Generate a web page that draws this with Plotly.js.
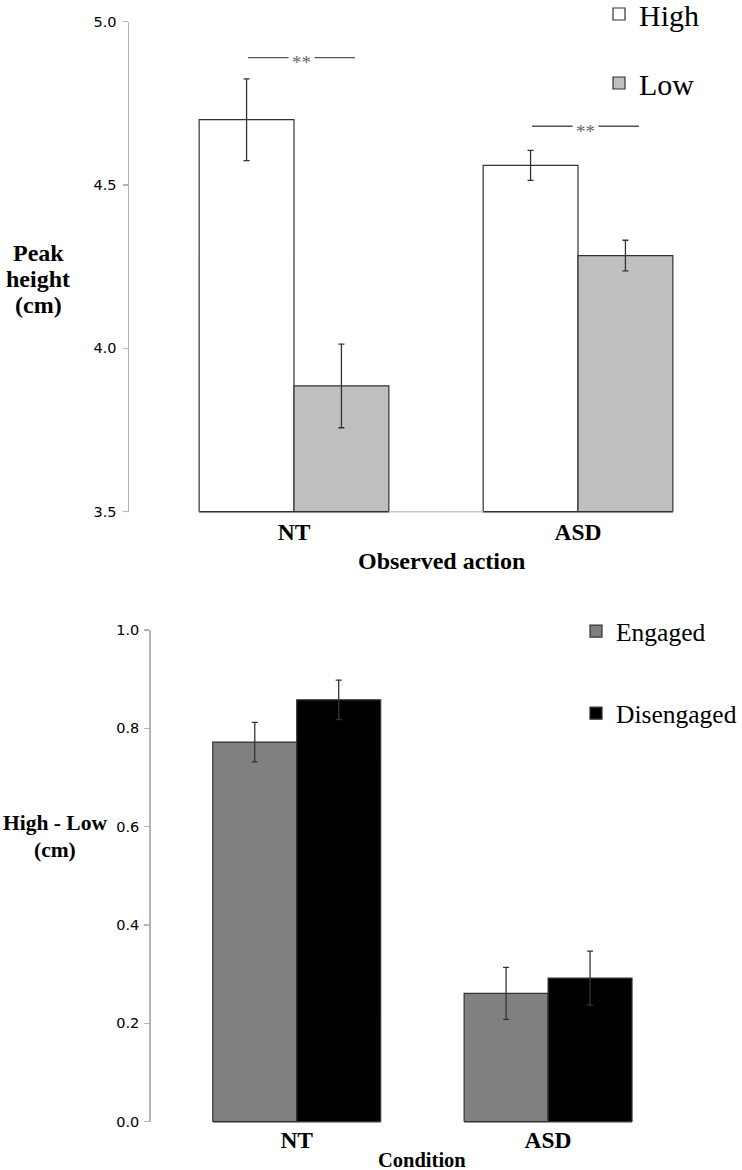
<!DOCTYPE html>
<html>
<head>
<meta charset="utf-8">
<script src="https://cdn.plot.ly/plotly-3.0.1.min.js"></script>
<style>html,body{margin:0;padding:0;background:#fff;overflow:hidden;}#chart{width:742px;}</style>
</head>
<body>
<div id="chart"></div>
<script>
// ---- data ----
const categories = ['NT', 'ASD'];
const highVals = [4.70, 4.56];
const highErr = [0.125, 0.046];
const lowVals = [3.885, 4.284];
const lowErr = [0.128, 0.047];
const engagedVals = [0.772, 0.261];
const engagedErr = [0.040, 0.053];
const disengagedVals = [0.858, 0.292];
const disengagedErr = [0.040, 0.055];
const sigY = [4.89, 4.68];
const sigLabel = ['**', '**'];
const topTicks = [3.5, 4.0, 4.5, 5.0];
const bottomTicks = [0.0, 0.2, 0.4, 0.6, 0.8, 1.0];

// ---- layout helpers ----
const W = 742, H = 1170;
const PAD = 12;               // hidden strip above the visible window (lets the legend sit higher)
const HT = H + PAD;
document.getElementById('chart').style.height = HT + 'px';
document.getElementById('chart').style.marginTop = (-PAD) + 'px';
const px = v => v / W;
const py = v => 1 - (v + PAD) / HT;
const serif = 'Liberation Serif, Times New Roman, serif';
const sans = 'DejaVu Sans, Verdana, sans-serif';
const bargap = 0.332;
const half = (1 - bargap) / 2;

const errStyle = arr => ({type: 'data', array: arr, visible: true, color: '#333', thickness: 1.3, width: 3});
const outline = {color: '#333', width: 1.2};

const traces = [
  {type: 'bar', name: 'High', x: categories, y: highVals, error_y: errStyle(highErr),
   marker: {color: '#ffffff', line: outline}, xaxis: 'x', yaxis: 'y', legend: 'legend', legendgroup: 'a'},
  {type: 'bar', name: 'Low', x: categories, y: lowVals, error_y: errStyle(lowErr),
   marker: {color: '#bfbfbf', line: outline}, xaxis: 'x', yaxis: 'y', legend: 'legend', legendgroup: 'b'},
  {type: 'bar', name: 'Engaged', x: categories, y: engagedVals, error_y: errStyle(engagedErr),
   marker: {color: '#808080', line: outline}, xaxis: 'x2', yaxis: 'y2', legend: 'legend2', legendgroup: 'c'},
  {type: 'bar', name: 'Disengaged', x: categories, y: disengagedVals, error_y: errStyle(disengagedErr),
   marker: {color: '#000000', line: outline}, xaxis: 'x2', yaxis: 'y2', legend: 'legend2', legendgroup: 'd'}
];

const topDom = [py(511.7), py(21.7)];
const botDom = [py(1121.7), py(630)];

const shapes = [];
// baseline of top chart (light gray between groups, dark under bars)
shapes.push({type: 'line', xref: 'x', yref: 'paper', x0: -half, x1: categories.length - 1 + half,
  y0: topDom[0], y1: topDom[0], line: {color: '#c8c8c8', width: 1.5}, layer: 'above'});
categories.forEach((c, i) => {
  shapes.push({type: 'line', xref: 'x', yref: 'paper', x0: i - half, x1: i + half,
    y0: topDom[0], y1: topDom[0], line: {color: '#333', width: 1.5}, layer: 'above'});
  shapes.push({type: 'line', xref: 'x2', yref: 'paper', x0: i - half, x1: i + half,
    y0: botDom[0], y1: botDom[0], line: {color: '#333', width: 1.5}, layer: 'above'});
});
// significance lines
sigY.forEach((yv, i) => {
  shapes.push({type: 'line', xref: 'x', yref: 'y', x0: i - 0.162, x1: i + 0.215, y0: yv, y1: yv,
    line: {color: '#555', width: 1.3}});
});

const annotations = [];
const ann = o => Object.assign({showarrow: false, xanchor: 'center', yanchor: 'middle'}, o);
sigY.forEach((yv, i) => {
  annotations.push(ann({xref: 'x', yref: 'y', x: i + 0.027, y: yv, text: sigLabel[i],
    font: {family: serif, size: 19, color: '#666'}, bgcolor: '#ffffff', borderpad: 3, yshift: -5}));
});
const topYTitle = ['Peak', 'height', '(cm)'];
const topYTitleY = [253, 279, 305];
topYTitle.forEach((t, i) => annotations.push(ann({xref: 'paper', yref: 'paper', x: px(38), y: py(topYTitleY[i]),
  text: t, font: {family: serif, size: 24, color: '#000', weight: 'bold'}})));
const botYTitle = ['High - Low', '(cm)'];
const botYTitleY = [823, 850];
botYTitle.forEach((t, i) => annotations.push(ann({xref: 'paper', yref: 'paper', x: px(54.5), y: py(botYTitleY[i]),
  text: t, font: {family: serif, size: 21.5, color: '#000', weight: 'bold'}})));
annotations.push(ann({xref: 'paper', yref: 'paper', x: px(441), y: py(561), text: 'Observed action',
  font: {family: serif, size: 24, color: '#000', weight: 'bold'}}));
annotations.push(ann({xref: 'paper', yref: 'paper', x: px(422.5), y: py(1160), text: 'Condition',
  font: {family: serif, size: 20.5, color: '#000', weight: 'bold'}}));

const yCommon = {showline: true, linecolor: '#b5b5b5', linewidth: 1.5, ticks: 'outside', ticklen: 5,
  tickcolor: '#b5b5b5', tickwidth: 1.3, showgrid: false, zeroline: false, tickformat: '.1f',
  tickfont: {family: sans, size: 14.5, color: '#000'}, fixedrange: true};
const xCommon = {type: 'category', showline: false, ticks: '', showgrid: false, zeroline: false,
  tickfont: {family: serif, size: 23.5, color: '#000', weight: 'bold'}, fixedrange: true};

const layout = {
  width: W, height: HT, margin: {l: 0, r: 0, t: 0, b: 0},
  paper_bgcolor: '#fff', plot_bgcolor: 'rgba(0,0,0,0)',
  barmode: 'group', bargap: bargap, bargroupgap: 0,
  showlegend: true,
  xaxis: Object.assign({}, xCommon, {domain: [px(129), px(720)], range: [-0.581, 1.5], anchor: 'y', ticklabelstandoff: 4}),
  yaxis: Object.assign({}, yCommon, {domain: topDom, range: [3.5, 5.0], tickvals: topTicks, anchor: 'x', ticklabelstandoff: 3}),
  xaxis2: Object.assign({}, xCommon, {domain: [px(150.7), px(720)], range: [-0.581, 1.684], anchor: 'y2', ticklabelstandoff: 2}),
  yaxis2: Object.assign({}, yCommon, {domain: botDom, range: [0, 1.0], tickvals: bottomTicks, anchor: 'x2', ticklabelstandoff: 2}),
  legend: {x: px(599), xanchor: 'left', y: 1, yanchor: 'top', bgcolor: 'rgba(0,0,0,0)',
    font: {family: serif, size: 30, color: '#000'}, tracegroupgap: 27, traceorder: 'grouped'},
  legend2: {x: 1, xanchor: 'right', y: py(608), yanchor: 'top', bgcolor: 'rgba(0,0,0,0)',
    font: {family: serif, size: 25.5, color: '#000'}, tracegroupgap: 46, traceorder: 'grouped'},
  shapes: shapes,
  annotations: annotations
};

Plotly.newPlot('chart', traces, layout, {displayModeBar: false, staticPlot: true});
</script>
</body>
</html>
